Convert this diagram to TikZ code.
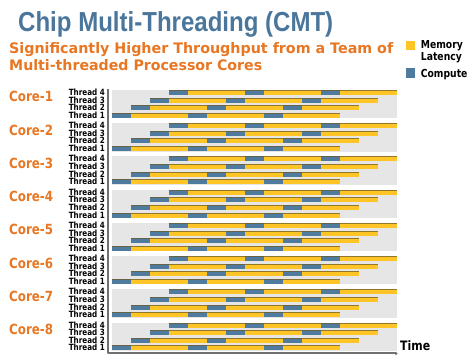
\documentclass[tikz,border=0pt]{standalone}
\usepackage{fontspec}
\usepackage{graphicx}
\setmainfont{Liberation Sans}
\newfontfamily\vfont{DejaVu Sans}
\definecolor{titleblue}{RGB}{74,118,156}
\definecolor{coreorange}{RGB}{232,118,34}
\definecolor{memyellow}{RGB}{255,196,37}
\definecolor{computeblue}{RGB}{79,123,158}
\definecolor{panelgrey}{RGB}{230,230,230}
\definecolor{axisgrey}{RGB}{112,112,112}
\definecolor{edgebrown}{RGB}{110,92,45}
\begin{document}
\begin{tikzpicture}[x=1pt,y=-1pt,
  bluebar/.style={fill=computeblue},
  yellowbar/.style={fill=memyellow},
  panel/.style={fill=panelgrey},
  topedge/.style={draw=edgebrown,line width=0.6pt,opacity=0.75},
  axisline/.style={draw=axisgrey,line width=2pt,line join=round},
  corelabel/.style={anchor=base west,inner sep=0,text=coreorange,font=\vfont\bfseries\fontsize{14}{14}\selectfont},
  threadlabel/.style={anchor=base east,inner sep=0,text=black,font=\vfont\bfseries\fontsize{8.6}{8.6}\selectfont},
  legtext/.style={anchor=base west,inner sep=0,text=black,font=\vfont\bfseries\fontsize{11}{11}\selectfont},
  subtitle/.style={anchor=base west,inner sep=0,text=coreorange,font=\vfont\bfseries\fontsize{14.5}{14.5}\selectfont}
]
\useasboundingbox (0,0) rectangle (474,363);

% title
\node[anchor=base west,inner sep=0,text=titleblue,font=\bfseries\fontsize{27.5}{27.5}\selectfont] (title) at (18,31.7)
  {\resizebox{315pt}{\height}{Chip Multi-Threading (CMT)}};
\node[subtitle] (sub1) at (9,53.4) {\resizebox{384pt}{\height}{Significantly Higher Throughput from a Team of}};
\node[subtitle] (sub2) at (9,70.2) {\resizebox{253pt}{\height}{Multi-threaded Processor Cores}};

% legend
\node[fill=memyellow,minimum width=9pt,minimum height=9pt,inner sep=0] (legmem) at (410.5,45.5) {};
\node[legtext] (legmemt1) at (420.7,49) {\resizebox{42pt}{\height}{Memory}};
\node[legtext] (legmemt2) at (420.7,61) {\resizebox{41pt}{\height}{Latency}};
\node[fill=computeblue,minimum width=9pt,minimum height=10pt,inner sep=0] (legcomp) at (410.5,73) {};
\node[legtext] (legcompt) at (420.7,77.3) {\resizebox{46.5pt}{\height}{Compute}};

% cores
\foreach \kk in {0,...,7}{
  \pgfmathsetmacro{\coreT}{90+33.24*\kk}
  \pgfmathtruncatemacro{\cnum}{\kk+1}
  \fill[panel] (111.7,\coreT) rectangle (396.7,\coreT+28.3);
  \node[corelabel] (core\cnum) at (9,{102+33.24*\kk}) {\resizebox{44pt}{\height}{Core-\cnum}};
  \foreach \mm in {0,...,3}{
    \pgfmathtruncatemacro{\tn}{4-\mm}
    \pgfmathsetmacro{\yy}{\coreT+7.6*\mm}
    \pgfmathsetmacro{\xs}{111.7+19*(\tn-1)}
    \node[threadlabel] (th\cnum-\tn) at (105,\yy+5.5) {\resizebox{36pt}{\height}{Thread \tn}};
    \foreach \rr in {0,1,2}{
      \fill[bluebar] ({\xs+76*\rr},\yy) rectangle ++(19,5);
      \fill[yellowbar] ({\xs+76*\rr+19},\yy) rectangle ++(57,5);
    }
    \draw[topedge] (\xs,\yy+0.3) -- ++(228,0);
  }
}

% axes
\coordinate (ytop) at (108,89);
\coordinate (origin) at (108,353.5);
\coordinate (xend) at (396,353.5);
\draw[axisline] (ytop) -- (origin) -- (xend);
\fill[axisgrey] (xend) circle (1.6);
\node[anchor=base west,inner sep=0,text=black,font=\vfont\bfseries\fontsize{13}{13}\selectfont] (time) at (400,351)
  {\resizebox{30pt}{\height}{Time}};
\end{tikzpicture}
\end{document}
